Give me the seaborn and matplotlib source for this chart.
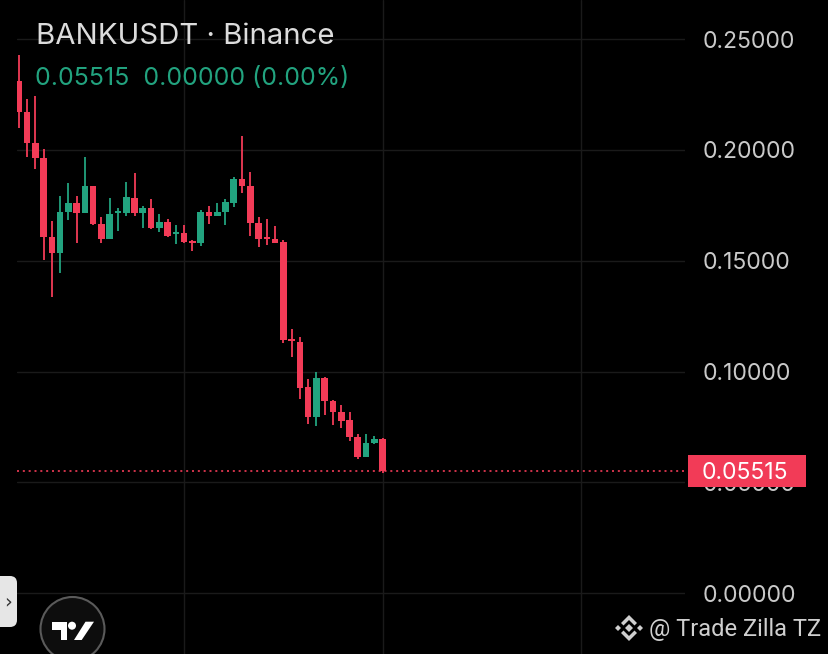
import matplotlib
matplotlib.use("Agg")
import matplotlib.pyplot as plt
import matplotlib.transforms as mtransforms
from matplotlib.patches import Rectangle, Circle, Polygon, FancyBboxPatch
import numpy as np
import pandas as pd
import seaborn as sns

# BANKUSDT candles
opens = [0.2312, 0.2172, 0.2030, 0.1962, 0.1608, 0.1534, 0.1719, 0.1759, 0.1714, 0.1837,
         0.1666, 0.1598, 0.1715, 0.1717, 0.1785, 0.1714, 0.1737, 0.1649, 0.1676, 0.1619,
         0.1627, 0.1590, 0.1579, 0.1719, 0.1702, 0.1719, 0.1762, 0.1869, 0.1837, 0.1669,
         0.1606, 0.1596, 0.1583, 0.1147, 0.1135, 0.0929, 0.0797, 0.0971, 0.0867, 0.0819,
         0.0780, 0.0706, 0.0616, 0.0677, 0.0695]
highs = [0.2428, 0.2228, 0.2245, 0.2003, 0.1679, 0.1793, 0.1849, 0.1793, 0.1969, 0.1837,
         0.1699, 0.1784, 0.1737, 0.1854, 0.1894, 0.1747, 0.1777, 0.1711, 0.1687, 0.1661,
         0.1661, 0.1594, 0.1729, 0.1747, 0.1762, 0.1779, 0.1876, 0.2064, 0.1899, 0.1696,
         0.1687, 0.1657, 0.1594, 0.1191, 0.1155, 0.0965, 0.0997, 0.0974, 0.0872, 0.0849,
         0.0816, 0.0717, 0.0717, 0.0710, 0.0699]
lows = [0.2099, 0.1969, 0.1912, 0.1503, 0.1335, 0.1446, 0.1684, 0.1581, 0.1713, 0.1661,
        0.1579, 0.1598, 0.1636, 0.1702, 0.1703, 0.1646, 0.1642, 0.1628, 0.1609, 0.1574,
        0.1581, 0.1544, 0.1567, 0.1666, 0.1702, 0.1661, 0.1741, 0.1807, 0.1612, 0.1561,
        0.1573, 0.1581, 0.1128, 0.1065, 0.0875, 0.0764, 0.0756, 0.0804, 0.0759, 0.0744,
        0.0688, 0.0607, 0.0616, 0.0672, 0.0544]
closes = [0.2172, 0.2030, 0.1962, 0.1608, 0.1534, 0.1719, 0.1759, 0.1714, 0.1837, 0.1666,
          0.1598, 0.1711, 0.1722, 0.1786, 0.1714, 0.1737, 0.1646, 0.1673, 0.1613, 0.1628,
          0.1586, 0.1581, 0.1719, 0.1703, 0.1719, 0.1766, 0.1867, 0.1837, 0.1669, 0.1598,
          0.1597, 0.1581, 0.1143, 0.1139, 0.0927, 0.0797, 0.0971, 0.0867, 0.0819, 0.0779,
          0.0706, 0.0613, 0.0677, 0.0696, 0.05515]

price_ticks = [0.0, 0.05, 0.10, 0.15, 0.20, 0.25]
last_price = 0.05515
header = "BANKUSDT · Binance"
quote_line = "0.05515  0.00000 (0.00%)"
watermark = "@ Trade Zilla TZ"

GREEN = "#22a37f"
RED = "#f23b57"
W, H = 829, 654

sns.set_theme(style="dark", rc={
    "figure.facecolor": "black",
    "axes.facecolor": "black",
    "grid.color": "#1a1a1a",
    "grid.linewidth": 1.0,
})
plt.rcParams["font.family"] = ["Inter", "DejaVu Sans"]

df = pd.DataFrame({"open": opens, "high": highs, "low": lows, "close": closes})
df["idx"] = np.arange(len(df))
df["up"] = df["close"] >= df["open"]
df["color"] = np.where(df["up"], GREEN, RED)
df["bottom"] = df[["open", "close"]].min(axis=1)
df["height"] = (df["close"] - df["open"]).abs().clip(lower=0.0008)

fig = plt.figure(figsize=(W / 100, H / 100), dpi=100)
ax = fig.add_axes([17 / W, 0, (685 - 17) / W, 1])

ax.vlines(df["idx"], df["low"], df["high"], colors=df["color"], linewidth=1.3, zorder=3)
ax.bar(df["idx"], df["height"], bottom=df["bottom"], width=0.8,
       color=df["color"], linewidth=0, zorder=4)

ax.set_xlim(-0.21, 80.57)
ax.set_ylim(-0.0274, 0.2676)
ax.set_xticks([20, 44, 68])
ax.set_xticklabels([])
ax.set_yticks(price_ticks)
ax.set_yticklabels([f"{v:.5f}" for v in price_ticks])
ax.yaxis.tick_right()
ax.tick_params(axis="y", length=0, pad=12.5, labelsize=16.6, labelcolor="#c9c9c9")
ax.tick_params(axis="x", length=0)
ax.grid(True, axis="both")
for s in ax.spines.values():
    s.set_visible(False)

# last price line and label (the label sits on top of the 0.05000 tick, as in the app)
ax.axhline(last_price, color=RED, linewidth=1.2, linestyle=(0, (1.2, 2.3)), zorder=2)
ytrans = ax.get_yaxis_transform()
ax.add_patch(Rectangle(((688 - 17) / 668, last_price - 0.00722), (806 - 688) / 668, 0.01444,
                       transform=ytrans, facecolor=RED, edgecolor="none",
                       clip_on=False, zorder=10))
ax.text((702 - 17) / 668, last_price, f"{last_price:.5f}", transform=ytrans,
        color="white", fontsize=16.6, va="center_baseline", ha="left", zorder=11)

# header
pix = mtransforms.Affine2D().scale(1 / W, -1 / H).translate(0, 1) + fig.transFigure
fig.text(36, 43.5, header, transform=pix, fontsize=21.1, color="#dcdcdc", va="baseline")
fig.text(35, 85, quote_line, transform=pix, fontsize=18.0, color=GREEN, va="baseline")

# left collapse button
fig.add_artist(FancyBboxPatch((-12, 576), 29, 51, boxstyle="round,pad=0,rounding_size=7",
                              transform=pix, facecolor="#e6e6e6", edgecolor="none"))
fig.text(8.5, 602, "›", transform=pix, fontsize=14, color="#333333",
         ha="center", va="center", family="DejaVu Sans")

# TradingView badge
fig.add_artist(Circle((72.5, 629), 32, transform=pix, facecolor="#0d0d0d",
                      edgecolor="#5a5a5a", linewidth=1.5))
fig.add_artist(Polygon([(52, 621.7), (66.7, 621.7), (66.7, 640), (61, 640), (61, 630), (52, 630)],
                       closed=True, transform=pix, facecolor="white", edgecolor="none"))
fig.add_artist(Circle((72, 625.7), 4, transform=pix, facecolor="white", edgecolor="none"))
fig.add_artist(Polygon([(74, 640), (81.7, 640), (94, 621.7), (85.5, 621.7)],
                       closed=True, transform=pix, facecolor="white", edgecolor="none"))

# watermark with exchange mark
mark = "#cfcfcf"
cx, cy = 629, 628
shapes = [
    [(cx, cy - 4), (cx + 4, cy), (cx, cy + 4), (cx - 4, cy)],
    [(cx - 11, cy - 3), (cx - 8, cy), (cx - 11, cy + 3), (cx - 14, cy)],
    [(cx + 11, cy - 3), (cx + 14, cy), (cx + 11, cy + 3), (cx + 8, cy)],
    [(cx, cy - 13), (cx + 8, cy - 5), (cx + 5.5, cy - 2.5), (cx, cy - 8), (cx - 5.5, cy - 2.5), (cx - 8, cy - 5)],
    [(cx, cy + 13), (cx + 8, cy + 5), (cx + 5.5, cy + 2.5), (cx, cy + 8), (cx - 5.5, cy + 2.5), (cx - 8, cy + 5)],
]
for pts in shapes:
    fig.add_artist(Polygon(pts, closed=True, transform=pix, facecolor=mark, edgecolor="none"))
fig.text(649, 636, watermark, transform=pix, fontsize=17.0, color=mark, va="baseline",
         family=["Roboto", "DejaVu Sans"])

fig.savefig("out.png", dpi=100, facecolor="black")
